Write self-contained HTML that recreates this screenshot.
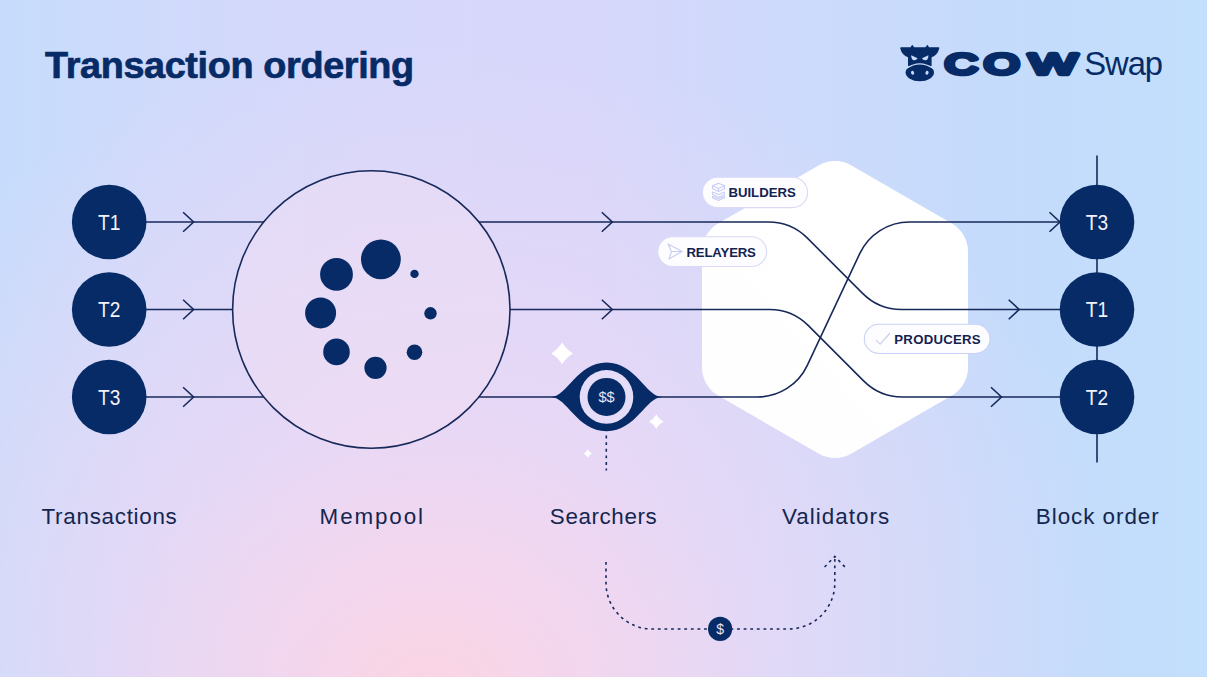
<!DOCTYPE html>
<html lang="en">
<head>
<meta charset="utf-8">
<title>Transaction ordering</title>
<style>
  html, body { margin:0; padding:0; }
  body { width:1207px; height:677px; overflow:hidden; position:relative;
    font-family:"Liberation Sans", sans-serif;
    background:
      radial-gradient(ellipse 340px 280px at 430px 705px, rgba(252,212,224,0.95) 0%, rgba(250,213,232,0.5) 45%, rgba(245,216,240,0) 100%),
      radial-gradient(ellipse 680px 580px at 440px 620px, rgba(241,216,242,0.95) 0%, rgba(236,216,245,0.62) 50%, rgba(228,217,249,0) 100%),
      linear-gradient(90deg, #c6dcfc 0%, #cfdafb 12%, #d6d8fb 30%, #d7d7fb 48%, #cddafb 66%, #c5dbfb 82%, #c2dffc 100%);
  }
  svg { position:absolute; left:0; top:0; }
  .tl { font:22.5px "Liberation Sans", sans-serif; fill:#f3f1fb; }
  .pl { font:bold 13.2px "Liberation Sans", sans-serif; fill:#14224f; }
  .bl { font:22.4px "Liberation Sans", sans-serif; fill:#14264f; letter-spacing:0.8px; }
  .title { font:bold 37.8px "Liberation Sans", sans-serif; fill:#062b66; stroke:#062b66; stroke-width:0.7px; letter-spacing:-0.36px; }
  .cow { font:30px "Liberation Sans", sans-serif; fill:#062b66; }
  .swap { font:32.8px "Liberation Sans", sans-serif; fill:#062b66; letter-spacing:-1.1px; }
</style>
</head>
<body>
<svg width="1207" height="677" viewBox="0 0 1207 677">
  <defs>
    <linearGradient id="hexg" x1="0" y1="1" x2="1" y2="0">
      <stop offset="0" stop-color="#fff" stop-opacity="0.96"/>
      <stop offset="0.42" stop-color="#fff" stop-opacity="0.99"/>
      <stop offset="1" stop-color="#fff" stop-opacity="1"/>
    </linearGradient>
  </defs>

  <!-- title -->
  <text x="45" y="77.6" class="title">Transaction ordering</text>

  <!-- logo -->
  <g id="logo">
    <g fill="#062b66">
      <path d="M900.2,48.3 Q900,47.2 901.2,47.2 L910.5,47.2 L912.2,44.8 L914.2,47.2 L925.4,47.2 L927.4,44.8 L929.1,47.2 L938.4,47.2 Q939.6,47.2 939.3,48.3 Q937.5,55.5 931.6,57.2 L931.6,66 L908,66 L908,57.2 Q902,55.5 900.2,48.3 Z"/>
      <ellipse cx="919.8" cy="72.6" rx="14.2" ry="8.6"/>
    </g>
    <g fill="#c9dbfb">
      <path d="M911.2,55.2 L917.6,58.2 Q916.4,60.6 913.6,60.2 Q911.2,59.4 911.2,55.2 Z"/>
      <path d="M928.4,55.2 L922,58.2 Q923.2,60.6 926,60.2 Q928.4,59.4 928.4,55.2 Z"/>
      <ellipse cx="912.6" cy="72.8" rx="1.5" ry="2" transform="rotate(-25 912.6 72.8)"/>
      <ellipse cx="927" cy="72.8" rx="1.5" ry="2" transform="rotate(25 927 72.8)"/>
    </g>
    <path d="M906.5,68.2 Q919.8,59.4 933.1,68.2" fill="none" stroke="#c9dbfb" stroke-width="1.3"/>
    <text class="cow" transform="translate(944.9,73.6) scale(1.5,1)" x="0 26.27 56" stroke="#062b66" stroke-width="6" stroke-linejoin="round" vector-effect="non-scaling-stroke">CO<tspan stroke-width="4.4" textLength="32" lengthAdjust="spacingAndGlyphs">W</tspan></text>
    <text x="1084.3" y="74.7" class="swap">Swap</text>
  </g>

  <!-- mempool circle -->
  <circle cx="371.3" cy="309.5" r="138.7" fill="rgba(250,226,242,0.32)" stroke="#17295a" stroke-width="1.6"/>
  <g fill="#062b66">
    <circle cx="380.9" cy="259.3" r="19.9"/>
    <circle cx="336.5" cy="274.3" r="16.4"/>
    <circle cx="320.6" cy="312.9" r="15.5"/>
    <circle cx="336.5" cy="351.9" r="13.3"/>
    <circle cx="375.5" cy="367.8" r="11.1"/>
    <circle cx="414.5" cy="352.3" r="7.8"/>
    <circle cx="430.5" cy="313.3" r="6.2"/>
    <circle cx="414.5" cy="273.9" r="4.2"/>
  </g>

  <!-- hexagon -->
  <path d="M818.50,165.43 A33,33 0 0 1 851.50,165.43 L951.52,223.17 A33,33 0 0 1 968.02,251.75 L968.02,367.25 A33,33 0 0 1 951.52,395.83 L851.50,453.57 A33,33 0 0 1 818.50,453.57 L718.48,395.83 A33,33 0 0 1 701.98,367.25 L701.98,251.75 A33,33 0 0 1 718.48,223.17 Z" fill="url(#hexg)"/>

  <!-- lines -->
  <g fill="none" stroke="#17295a" stroke-width="1.6" stroke-linejoin="miter">
    <path d="M146,222 H263.68"/>
    <path d="M183.1,212.25 L193.6,222 L183.1,231.75"/>
    <path d="M146,309.5 H232.60"/>
    <path d="M183.1,299.75 L193.6,309.5 L183.1,319.25"/>
    <path d="M146,397 H263.68"/>
    <path d="M183.1,387.25 L193.6,397 L183.1,406.75"/>
    <path d="M478.92,222 H768.5 A55,55 0 0 1 807.41,238.13 L862.59,293.37 A55,55 0 0 0 901.50,309.50 H1060"/>
    <path d="M510.00,309.5 H769.5 A55,55 0 0 1 808.41,325.63 L863.59,380.87 A55,55 0 0 0 902.50,397.00 H1060"/>
    <path d="M478.92,397 H757.5 A55,55 0 0 0 807.29,365.36 L859.71,253.64 A55,55 0 0 1 909.50,222.00 H1060"/>
    <path d="M601.8,212.25 L612.3,222 L601.8,231.75"/>
    <path d="M601.8,299.75 L612.3,309.5 L601.8,319.25"/>
    <path d="M1049.5,212.25 L1060,222 L1049.5,231.75"/>
    <path d="M1008.7,299.75 L1019.2,309.5 L1008.7,319.25"/>
    <path d="M991.0,387.25 L1001.5,397 L991.0,406.75"/>
    <path d="M1097,155.5 V462.5"/>
  </g>

  <!-- searcher eye -->
  <g>
    <path d="M551,397 C567,397 577,362.6 606.5,362.6 C636,362.6 646,397 662,397 C646,397 636,431.2 606.5,431.2 C577,431.2 567,397 551,397 Z" fill="#062b66"/>
    <circle cx="606.5" cy="396.9" r="26.8" fill="#e4dcf8"/>
    <circle cx="606.5" cy="396.9" r="19" fill="#062b66"/>
    <text x="606.5" y="402.2" text-anchor="middle" font-size="14.6" fill="#e9e4fa" font-family="Liberation Sans, sans-serif">$$</text>
    <path d="M606.3,435.6 V470.5" stroke="#17295a" stroke-width="1.6" stroke-dasharray="2.9 3.7" fill="none"/>
  </g>
  <g fill="#ffffff">
    <path d="M562.1,342.59999999999997 Q566.2040000000001,349.296 572.9,353.4 Q566.2040000000001,357.50399999999996 562.1,364.2 Q557.996,357.50399999999996 551.3000000000001,353.4 Q557.996,349.296 562.1,342.59999999999997 Z"/>
    <path d="M656.3,414.40000000000003 Q658.8919999999999,419.00800000000004 663.5,421.6 Q658.8919999999999,424.192 656.3,428.8 Q653.708,424.192 649.0999999999999,421.6 Q653.708,419.00800000000004 656.3,414.40000000000003 Z"/>
    <path d="M587.8,449.3 Q589.3119999999999,451.988 592.0,453.5 Q589.3119999999999,455.012 587.8,457.7 Q586.288,455.012 583.5999999999999,453.5 Q586.288,451.988 587.8,449.3 Z"/>
  </g>

  <!-- pills -->
  <g>
    <rect x="702.4" y="177.2" width="105.20000000000005" height="30.400000000000006" rx="15.200000000000003" fill="#fdfdff" stroke="#d9daf6" stroke-width="1.1"/><g fill="none" stroke="#c9cef2" stroke-width="1.1" stroke-linejoin="round"><path d="M718.5,183.2 l6,2.6 v3 l-6,2.6 l-6,-2.6 v-3 z"/><path d="M712.5,192 l6,2.6 l6,-2.6 v2.6 l-6,2.6 l-6,-2.6 z"/><path d="M712.5,196.2 l6,2.6 l6,-2.6 v1.6 l-6,2.6 l-6,-2.6 z"/><path d="M712.5,185.8 l6,2.6 l6,-2.6 M718.5,188.4 v3"/></g><text x="728.4" y="197.3" class="pl" style="letter-spacing:0px">BUILDERS</text>
    <rect x="657.8" y="236.8" width="108.80000000000007" height="29.69999999999999" rx="14.849999999999994" fill="#fdfdff" stroke="#d9daf6" stroke-width="1.1"/><g fill="none" stroke="#c9cef2" stroke-width="1.1" stroke-linejoin="round"><path d="M668,244 L682,251.5 L669,259 L671.5,251.5 Z M671.5,251.5 H682"/></g><text x="686.5" y="256.6" class="pl" style="letter-spacing:-0.17px">RELAYERS</text>
    <rect x="864.3" y="324.3" width="125.70000000000005" height="29.19999999999999" rx="14.599999999999994" fill="#fdfdff" stroke="#c9d2f5" stroke-width="1.1"/><path d="M876.5,340.5 l3.6,3.6 l9.6,-10.6" fill="none" stroke="#cdd0ee" stroke-width="1.3" stroke-linecap="round" stroke-linejoin="round"/><text x="894.3" y="343.8" class="pl" style="letter-spacing:0.26px">PRODUCERS</text>
  </g>

  <!-- T circles -->
  <g>
    <circle cx="109.2" cy="222" r="37.3" fill="#062b66"/><text transform="translate(109.2,229.9) scale(0.85,1)" text-anchor="middle" class="tl">T1</text>
    <circle cx="109.2" cy="309.5" r="37.3" fill="#062b66"/><text transform="translate(109.2,317.4) scale(0.85,1)" text-anchor="middle" class="tl">T2</text>
    <circle cx="109.2" cy="397" r="37.3" fill="#062b66"/><text transform="translate(109.2,404.9) scale(0.85,1)" text-anchor="middle" class="tl">T3</text>
    <circle cx="1097" cy="222" r="37.3" fill="#062b66"/><text transform="translate(1097,229.9) scale(0.85,1)" text-anchor="middle" class="tl">T3</text>
    <circle cx="1097" cy="309.5" r="37.3" fill="#062b66"/><text transform="translate(1097,317.4) scale(0.85,1)" text-anchor="middle" class="tl">T1</text>
    <circle cx="1097" cy="397" r="37.3" fill="#062b66"/><text transform="translate(1097,404.9) scale(0.85,1)" text-anchor="middle" class="tl">T2</text>
  </g>

  <!-- bottom labels -->
  <g>
    <text x="109.56" y="524.1" text-anchor="middle" class="bl" style="letter-spacing:0.72px">Transactions</text>
    <text x="372.24" y="524.1" text-anchor="middle" class="bl" style="letter-spacing:1.88px">Mempool</text>
    <text x="603.5999999999999" y="524.1" text-anchor="middle" class="bl" style="letter-spacing:0.6px">Searchers</text>
    <text x="836.12" y="524.1" text-anchor="middle" class="bl" style="letter-spacing:1.04px">Validators</text>
    <text x="1097.78" y="524.1" text-anchor="middle" class="bl" style="letter-spacing:0.96px">Block order</text>
  </g>

  <!-- dashed payment arc -->
  <g fill="none" stroke="#17295a" stroke-width="1.6" stroke-dasharray="2.8 3.8">
    <path d="M606,562 V583 A46,46 0 0 0 652,629 H789 A46,46 0 0 0 834.8,583 V557"/>
    <path d="M824.6,567 L834.8,556.4 L845,567"/>
  </g>
  <circle cx="720.1" cy="628.9" r="12.1" fill="#062b66"/>
  <text x="720.1" y="633.9" text-anchor="middle" font-size="14" fill="#e9e4fa" font-family="Liberation Sans, sans-serif">$</text>
</svg>
</body>
</html>
